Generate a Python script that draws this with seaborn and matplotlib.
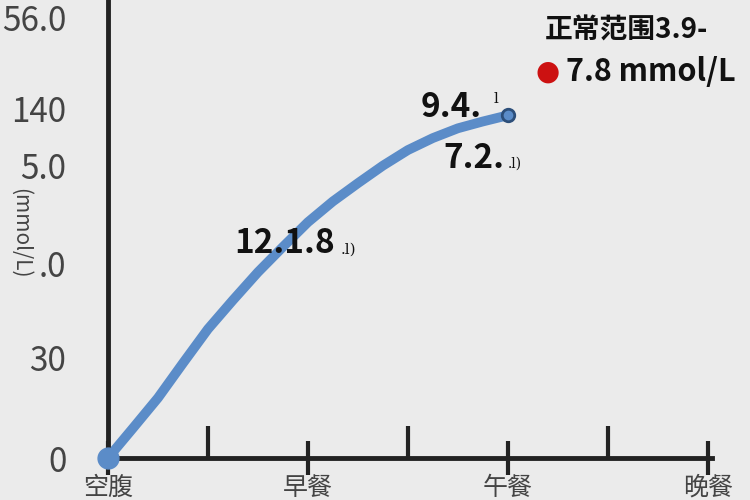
import matplotlib
matplotlib.use("Agg")
import matplotlib.pyplot as plt
import seaborn as sns
import pandas as pd

# data
meal_labels = ['空腹', '早餐', '午餐', '晚餐']
time_pos = [0, 0.125, 0.25, 0.375, 0.5, 0.625, 0.75, 0.875, 1.0,
            1.125, 1.25, 1.375, 1.5, 1.625, 1.75, 1.875, 2.0]
glucose = [0, 0.92, 1.85, 2.92, 3.97, 4.86, 5.72, 6.5, 7.26,
           7.9, 8.46, 9.0, 9.48, 9.85, 10.15, 10.36, 10.55]
ytick_vals = [0, 3.1, 6.0, 9.0, 10.75, 13.55]
ytick_txt = ['0', '30', '.0', '5.0', '140', '56.0']
notes = [('12.1.8', 0.63, 6.6), ('9.4.', 1.565, 10.78), ('7.2.', 1.68, 9.23)]

sns.set_theme(style='white')
plt.rcParams['font.family'] = ['Noto Sans CJK SC', 'DejaVu Sans']

df = pd.DataFrame({'t': time_pos, 'g': glucose})

fig = plt.figure(figsize=(7.5, 5), dpi=100, facecolor='#ebebeb')
ax = fig.add_axes([0.144, 0.084, 0.805, 0.916])
ax.set_facecolor('#ebebeb')

sns.lineplot(data=df, x='t', y='g', ax=ax, color='#5b8cc8', linewidth=7,
             solid_capstyle='round', solid_joinstyle='round')
ax.plot(time_pos[0], glucose[0], 'o', color='#5b8cc8', markersize=15, clip_on=False, zorder=5)
ax.plot(time_pos[-1], glucose[-1], 'o', markerfacecolor='#5b8cc8', markeredgecolor='#2d4f7a',
        markersize=9, markeredgewidth=2, zorder=5)

for txt, x, y in notes:
    ax.text(x, y, txt, fontsize=24, fontweight='bold', color='#111111', ha='left', va='center')
ax.text(1.165, 6.4, '.l)', fontsize=11, color='#111111', va='center', family=['DejaVu Serif'])
ax.text(2.0, 9.05, '.l)', fontsize=10, color='#111111', va='center', family=['DejaVu Serif'])
ax.text(1.93, 11.05, 'l', fontsize=11, color='#111111', va='center', family=['DejaVu Serif'])

ax.set_xlim(0, 3.02)
ax.set_ylim(0, 14.1)
ax.set_xticks(range(len(meal_labels)))
ax.set_xticklabels(meal_labels, fontsize=18, color='#444444')
ax.set_xticks([0.5, 1.5, 2.5], minor=True)
ax.tick_params(axis='x', which='both', bottom=True)
ax.tick_params(axis='x', which='major', direction='inout', length=24, width=3, color='#222222', pad=0)
ax.tick_params(axis='x', which='minor', direction='in', length=23, width=3, color='#222222')
ax.set_yticks(ytick_vals)
ax.set_yticklabels(ytick_txt, fontsize=24, color='#444444')
ax.tick_params(axis='y', length=0, pad=30)
ax.set_xlabel('')
ax.set_ylabel('(mmol/L)', fontsize=15, color='#444444', rotation=-90)
ax.yaxis.set_label_coords(-0.163, 0.49)

for side in ['top', 'right']:
    ax.spines[side].set_visible(False)
for side in ['left', 'bottom']:
    ax.spines[side].set_color('#222222')
    ax.spines[side].set_linewidth(3.5)

fig.text(0.727, 0.938, '正常范围3.9-', fontsize=20, fontweight='bold', color='#111111', va='center')
fig.text(0.714, 0.856, '●', fontsize=20, color='#cc1111', va='center', family=['DejaVu Sans'])
fig.text(0.754, 0.856, '7.8 mmol/L', fontsize=22, fontweight='bold', color='#111111', va='center')

fig.savefig('out.png', dpi=100, facecolor='#ebebeb')
